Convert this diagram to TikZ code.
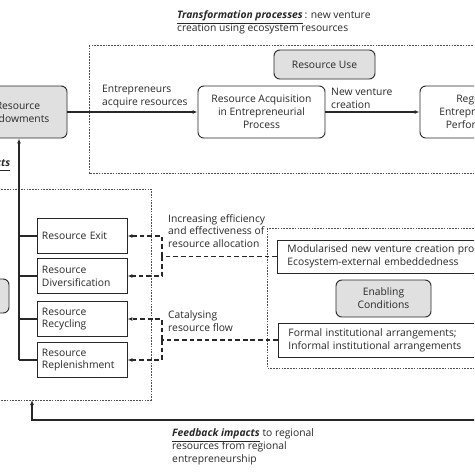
\documentclass[tikz,border=0pt]{standalone}
\usepackage{fontspec}
\setmainfont{Open Sans}
\usetikzlibrary{arrows.meta,calc,positioning}
\definecolor{boxgray}{RGB}{224,224,224}
\definecolor{linegray}{RGB}{40,40,40}
\definecolor{zonegray}{RGB}{80,80,80}
\tikzset{
  txt/.style={font=\fontsize{8.8}{11}\selectfont, text=linegray},
  stage/.style={draw=linegray, line width=0.8pt, fill=white,
                rounded corners=5pt, inner sep=2pt, align=center, txt},
  stagegray/.style={stage, fill=boxgray},
  dynbox/.style={draw=linegray, line width=0.8pt, fill=white,
                 inner sep=2pt, align=left, txt},
  condbox/.style={draw=linegray, line width=0.8pt, fill=white,
                  inner xsep=6pt, inner ysep=2pt, align=left, txt,
                  anchor=west, minimum width=9cm, text width=8.4cm},
  zone/.style={draw=zonegray, line width=0.6pt, dash pattern=on 1.4pt off 1pt},
  wire/.style={linegray, line width=1pt},
  flow/.style={wire, -{Latex[length=1.5mm,width=1.2mm]}},
  dflow/.style={flow, dash pattern=on 4pt off 2.5pt},
  dwire/.style={wire, dash pattern=on 4pt off 2.5pt},
  lab/.style={txt, align=left, inner sep=0pt, anchor=west},
}

\begin{document}
\begin{tikzpicture}[x=0.03cm,y=-0.03cm]
  \path[use as bounding box] (0,0) rectangle (474,474);
  \clip (0,0) rectangle (474,474);

  % Transformation processes zone.
  \draw[zone] (89,45) rectangle (600,173);
  \node[lab] (ttl) at (177,22.5)
    {\underline{\textbf{\textit{Transformation processes}}}\,: new venture\\creation using ecosystem resources};
  \node[stagegray, minimum width=3.03cm, minimum height=0.87cm] (use) at (324.5,64.5) {Resource Use};

  \node[stagegray, minimum width=2.94cm, minimum height=1.56cm] (endow) at (18,112) {Resource\\Endowments};
  \node[stage, minimum width=3.81cm, minimum height=1.56cm] (acq) at (261.5,112)
    {Resource Acquisition\\in Entrepreneurial\\Process};
  \node[stage, minimum width=3.42cm, minimum height=1.56cm] (perf) at (477,112)
    {Regional\\Entrepreneurial\\Performance};
  \draw[flow] (endow.east) -- (acq.west);
  \draw[flow] (acq.east) -- (perf.west);
  \node[lab] (acqlab) at (102,97) {Entrepreneurs\\acquire resources};
  \node[lab] (newlab) at (331,98) {New venture\\creation};

  % Resource dynamics zone.
  \node[txt, anchor=east, inner sep=0pt] (imp) at (10.5,165)
    {\underline{\textbf{\textit{Resource impacts}}}};
  \draw[zone] (-10,189) rectangle (151,400);
  \node[stagegray, minimum width=3cm, minimum height=1.02cm] (dyn) at (-41,296) {};
  \foreach \name/\yy/\tx in {exit/236/{Resource Exit},div/276/{Resource\\Diversification},
                             recy/319/{Resource\\Recycling},repl/360/{Resource\\Replenishment}}{
    \node[dynbox, minimum width=2.7cm, minimum height=1.06cm, text width=2.4cm]
      (\name) at (82,\yy) {\tx};
  }
  \coordinate (spine) at (19,360);
  \draw[flow] (spine) -- (spine |- endow.south);
  \foreach \name in {exit,div,recy,repl}{
    \draw[wire] (\name.west) -- (\name.west -| spine);
  }

  % Enabling conditions zone.
  \draw[zone] (267,228) rectangle (600,368);
  \node[condbox, minimum height=0.99cm] (mod) at (277,256.5)
    {Modularised new venture creation process;\\Ecosystem-external embeddedness};
  \node[stagegray, minimum width=2.85cm, minimum height=1.11cm] (enab) at (383.5,298.5)
    {Enabling\\Conditions};
  \node[condbox, minimum height=1.02cm] (form) at (278,340)
    {Formal institutional arrangements;\\Informal institutional arrangements};

  % Dashed effects on the dynamics.
  \coordinate (effj) at (162,256.5);
  \coordinate (catj) at (162,340);
  \draw[dwire] (mod.west) -- (effj);
  \draw[dflow] (effj) |- (exit.east);
  \draw[dflow] (effj) |- (div.east);
  \draw[dwire] (form.west) -- (catj);
  \draw[dflow] (catj) |- (recy.east);
  \draw[dflow] (catj) |- (repl.east);
  \node[lab] (efflab) at (168,231)
    {Increasing efficiency\\and effectiveness of\\resource allocation};
  \node[lab] (catlab) at (168,321.5) {Catalysing\\resource flow};

  % Feedback loop.
  \coordinate (fbin) at (520,420);
  \coordinate (dynbot) at (32,400);
  \draw[flow] (fbin) -| (dynbot);
  \node[lab] (fblab) at (172,447)
    {\underline{\textbf{\textit{Feedback impacts}}} to regional\\resources from regional\\entrepreneurship};
\end{tikzpicture}
\end{document}
